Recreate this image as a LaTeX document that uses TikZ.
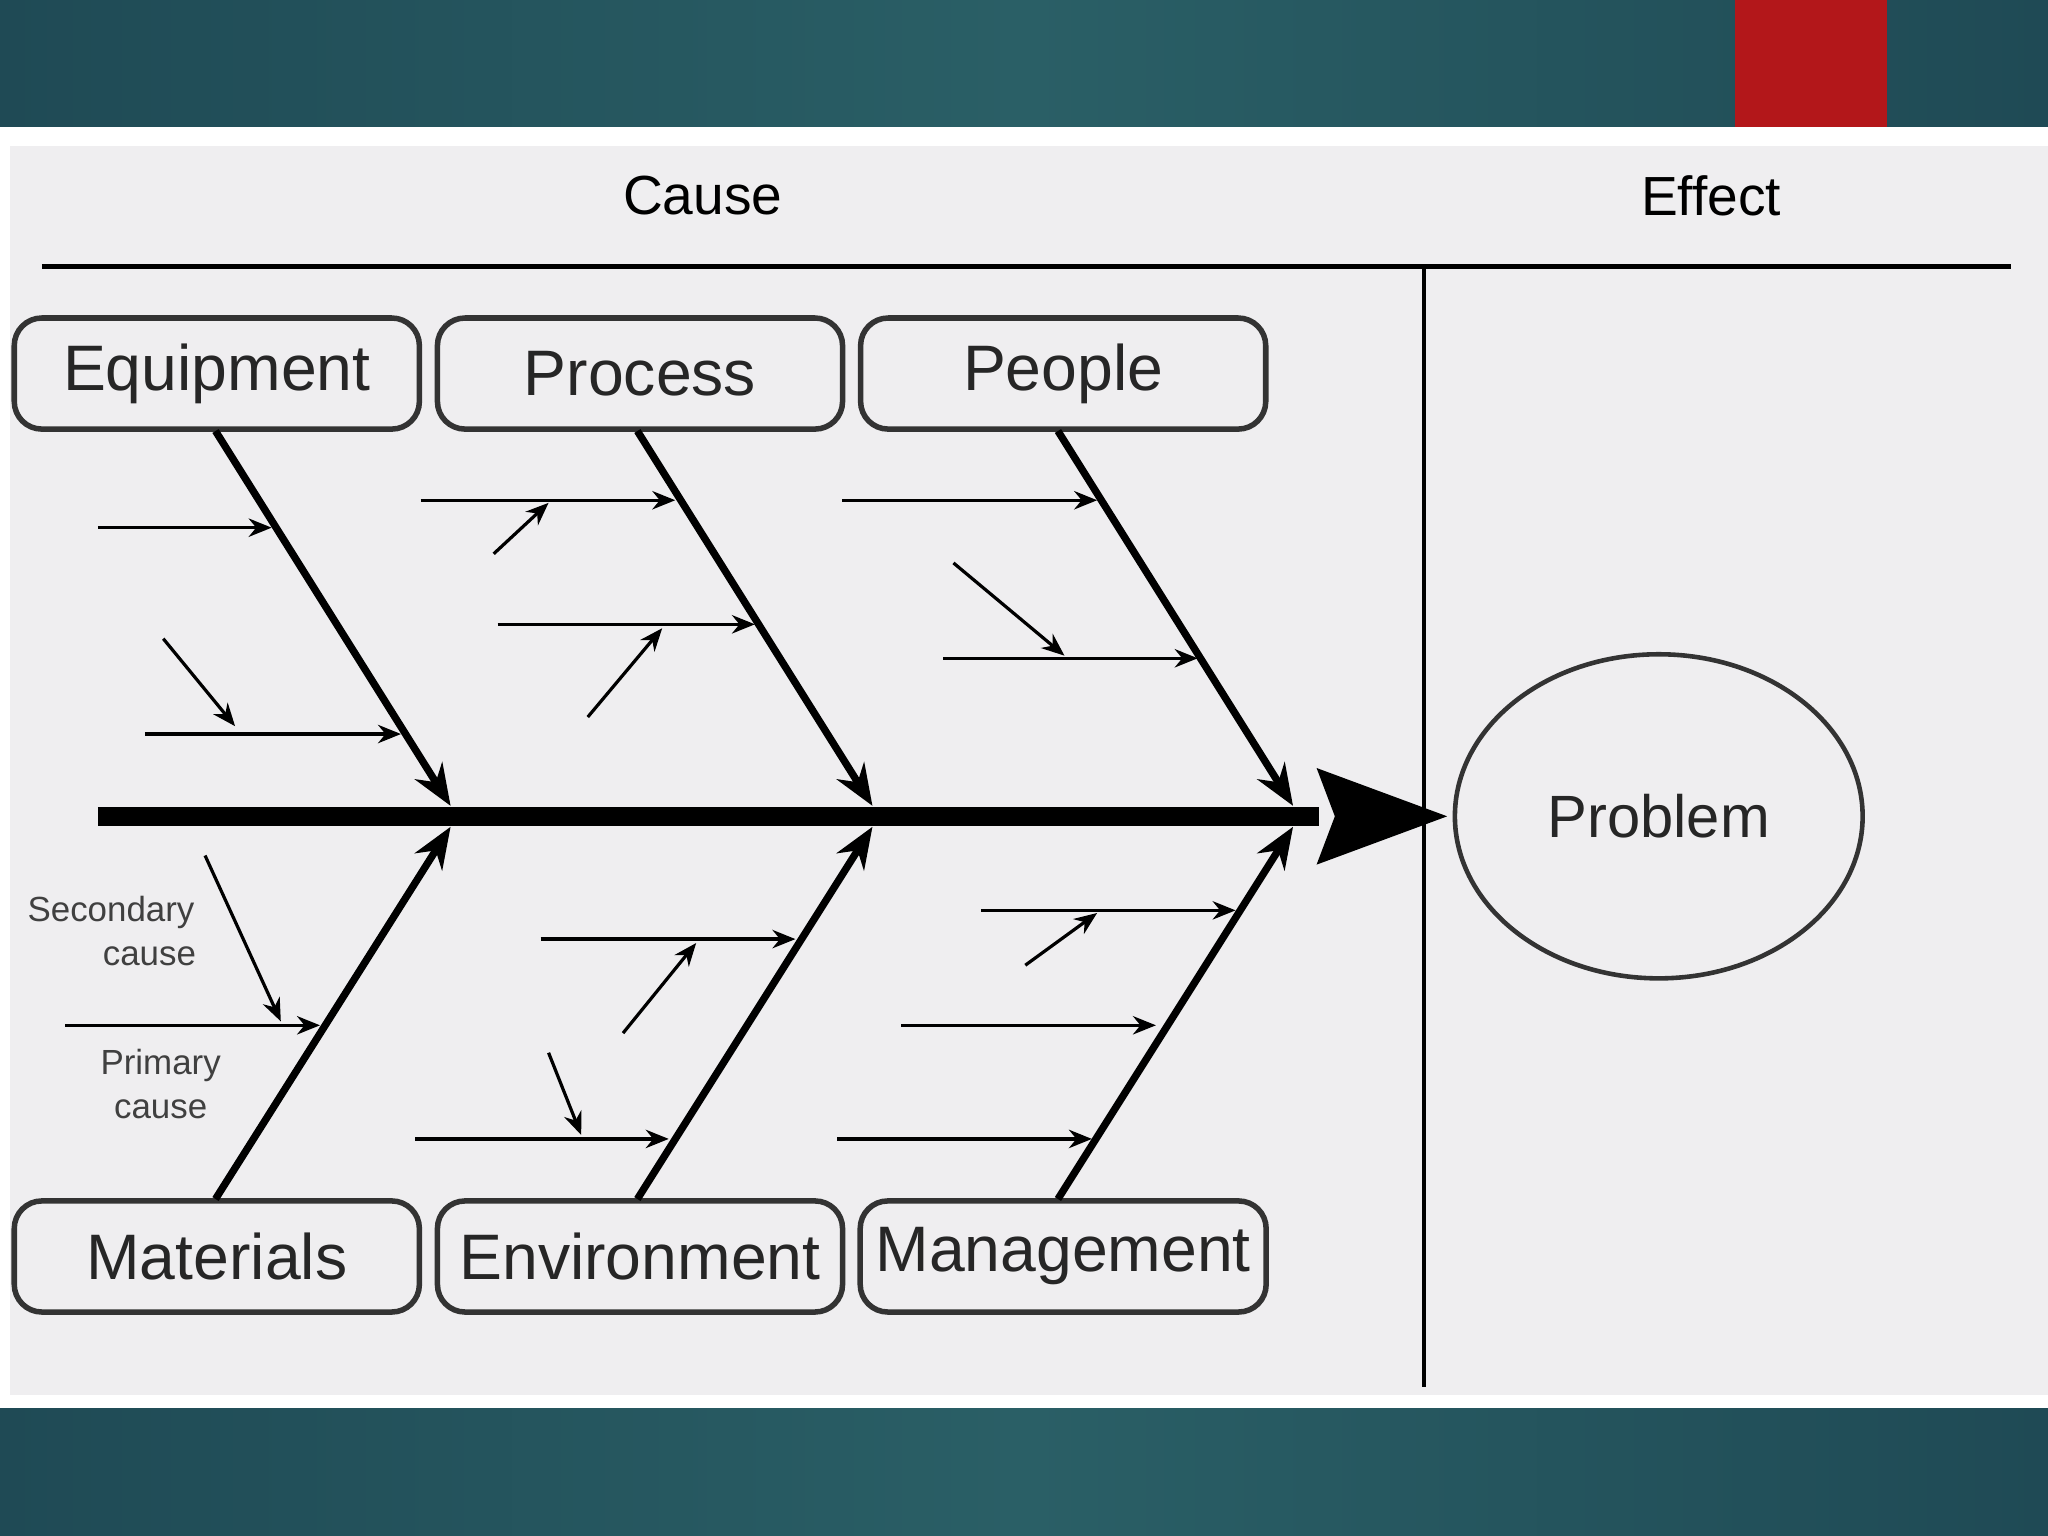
\documentclass[tikz,border=0pt]{standalone}
\usepackage{fontspec}
\setmainfont{Liberation Sans}
\usetikzlibrary{arrows.meta,shapes.geometric}
\definecolor{teal1}{HTML}{1F4A55}
\definecolor{teal2}{HTML}{2A5F66}
\definecolor{panel}{HTML}{EFEEF0}
\definecolor{redbox}{HTML}{B3171A}
\tikzset{
 cat/.style={draw=black!80,line width=1.2pt,rounded corners=6pt,minimum width=3.1cm,minimum height=0.85cm,font=\fontsize{14}{16}\selectfont,text=black!85},
 bone/.style={line width=1.6pt,-{Stealth[length=9pt,width=7pt]}},
 sub/.style={line width=0.7pt,-{Stealth[length=5pt,width=4pt]}},
 small/.style={font=\fontsize{7.6}{9.5}\selectfont,text=black!75,align=center}
}
\begin{document}
\begin{tikzpicture}[x=0.01cm,y=-0.01cm]
\useasboundingbox (0,0) rectangle (1568,1176);
\shade[left color=teal1,right color=teal1,middle color=teal2] (0,0) rectangle (1568,97);
\shade[left color=teal1,right color=teal1,middle color=teal2] (0,1078) rectangle (1568,1176);
\fill[white] (0,97) rectangle (1568,1078);
\fill[panel] (8,112) rectangle (1568,1068);
\fill[redbox] (1328,0) rectangle (1445,97);
\node (cause) at (538,150) {\fontsize{12}{14}\selectfont Cause};
\node (effect) at (1310,150) {\fontsize{12}{14}\selectfont Effect};
\draw[line width=0.9pt] (32,204) -- (1540,204);
\draw[line width=0.9pt] (1090,204) -- (1090,1062);
\node[cat] (eq) at (166,286) {Equipment};
\node[cat] (pr) at (490,286) {Process};
\node[cat] (pe) at (814,286) {People};
\node[cat] (ma) at (166,962) {Materials};
\node[cat] (en) at (490,962) {Environment};
\node[cat] (mg) at (814,962) {Management};
\node[draw=black!80,line width=1pt,ellipse,minimum width=3.12cm,minimum height=2.48cm,font=\fontsize{13}{15}\selectfont,text=black!85] (prob) at (1270,625) {Problem};
\coordinate (s0) at (75,625);
\coordinate (s1) at (1010,625);
\draw[line width=4pt] (s0) -- (s1);
\fill (1008,588) -- (1108,625) -- (1008,662) -- (1022,625) -- cycle;
\coordinate (j1) at (345,617); \coordinate (j2) at (668,617); \coordinate (j3) at (990,617);
\coordinate (k1) at (345,633); \coordinate (k2) at (668,633); \coordinate (k3) at (990,633);
\draw[bone] (165,330) -- (j1);
\draw[bone] (488,330) -- (j2);
\draw[bone] (810,330) -- (j3);
\draw[bone] (165,918) -- (k1);
\draw[bone] (488,918) -- (k2);
\draw[bone] (810,918) -- (k3);
% Equipment
\draw[sub] (75,404) -- (208,404);
\draw[sub] (111,562) -- (307,562);
\draw[sub] (125,489) -- (180,556);
% Process
\draw[sub] (322,383) -- (517,383);
\draw[sub] (378,424) -- (420,385);
\draw[sub] (381,478) -- (578,478);
\draw[sub] (450,549) -- (507,481);
% People
\draw[sub] (645,383) -- (840,383);
\draw[sub] (722,504) -- (917,504);
\draw[sub] (730,431) -- (815,502);
% Materials
\draw[sub] (50,785) -- (245,785);
\draw[sub] (157,655) -- (215,782);
\node[small] (sec) at (85,713) {Secondary\\\hspace*{2.2em}cause};
\node[small] (pri) at (123,830) {Primary\\cause};
% Environment
\draw[sub] (414,719) -- (609,719);
\draw[sub] (477,791) -- (533,722);
\draw[sub] (318,872) -- (512,872);
\draw[sub] (420,806) -- (445,869);
% Management
\draw[sub] (751,697) -- (946,697);
\draw[sub] (785,739) -- (840,699);
\draw[sub] (690,785) -- (885,785);
\draw[sub] (641,872) -- (836,872);
\end{tikzpicture}
\end{document}
